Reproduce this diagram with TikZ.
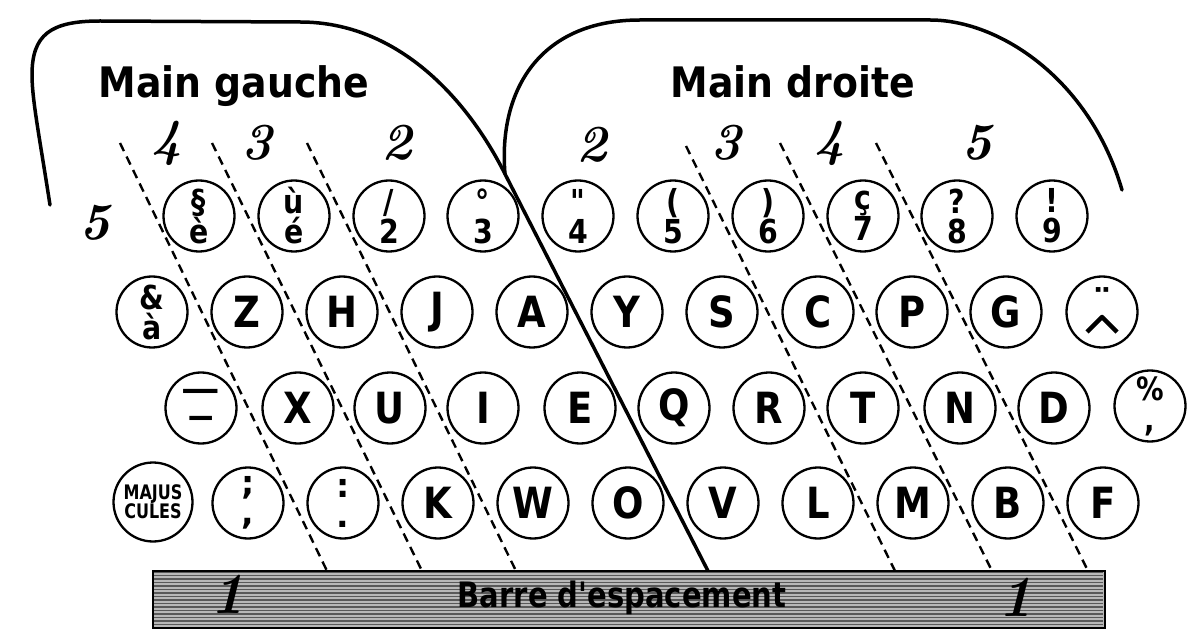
\documentclass[tikz,border=0pt]{standalone}
\usepackage{fontspec}
\newfontfamily\dvb{DejaVu Sans Bold}
\usetikzlibrary{calc}
\newcommand{\nar}[1]{\scalebox{0.86}[1]{#1}}
\begin{document}
\begin{tikzpicture}[x=1pt,y=-1pt,
  key/.style={circle,draw,line width=2.3pt,minimum size=71pt,inner sep=0pt,font=\dvb\fontsize{43}{43}\selectfont},
  keytwo/.style={key,align=center,font=\dvb\fontsize{33}{30}\selectfont},
  fing/.style={font=\bfseries\itshape\fontsize{52}{52}\selectfont},
  head/.style={font=\dvb\fontsize{42}{42}\selectfont},
  zone/.style={line width=2.4pt,dash pattern=on 9pt off 6pt},
  hand/.style={line width=3.5pt,line cap=round,line join=round}]
\useasboundingbox (0,0) rectangle (1200,644);

% hand outlines
\coordinate (junc) at (505,174);
\coordinate (divb) at (708,571);
\coordinate (lstart) at (50,205);
\coordinate (rend) at (1122,190);
\draw[hand] (lstart) .. controls (40,140) and (32,100) .. (32,75)
  .. controls (32,35) and (50,21) .. (100,21) -- (300,22)
  .. controls (400,22) and (469,102) .. (junc) -- (divb);
\draw[hand] (junc) .. controls (498,90) and (540,20) .. (640,20) -- (930,20)
  .. controls (1000,20) and (1090,80) .. (rend);

% headings
\node[head,anchor=base] (mg) at (234,98) {\scalebox{0.9}[1]{Main gauche}};
\node[head,anchor=base] (md) at (793,98) {\scalebox{0.9}[1]{Main droite}};

% finger numbers
\node[fing] (f5l) at (95,223) {5};
\node[fing] (f4l) at (167,143) {4};
\node[fing] (f3l) at (257,143) {3};
\node[fing] (f2l) at (397,143) {2};
\node[fing] (f2r) at (592,145) {2};
\node[fing] (f3r) at (726,143) {3};
\node[fing] (f4r) at (830,143) {4};
\node[fing] (f5r) at (977,143) {5};

% finger zone lines
\coordinate (za1) at (120,143); \coordinate (zb1) at (328,573);
\coordinate (za2) at (212,143); \coordinate (zb2) at (423,573);
\coordinate (za3) at (307,143); \coordinate (zb3) at (517,573);
\coordinate (za4) at (686,146); \coordinate (zb4) at (896,573);
\coordinate (za5) at (780,143); \coordinate (zb5) at (993,573);
\coordinate (za6) at (876,143); \coordinate (zb6) at (1089,573);
\foreach \i in {1,...,6} \draw[zone] (za\i) -- (zb\i);

% row 1
\node[keytwo] (k11) at (199,216) {\nar{§}\\\nar{è}};
\node[keytwo] (k12) at (294,216) {\nar{ù}\\\nar{é}};
\node[keytwo] (k13) at (389,216) {\nar{/}\\\nar{2}};
\node[keytwo] (k14) at (483,216) {\nar{°}\\\nar{3}};
\node[keytwo] (k15) at (578,216) {\nar{"}\\\nar{4}};
\node[keytwo] (k16) at (673,216) {\nar{(}\\\nar{5}};
\node[keytwo] (k17) at (768,216) {\nar{)}\\\nar{6}};
\node[keytwo] (k18) at (863,216) {\nar{ç}\\\nar{7}};
\node[keytwo] (k19) at (957,216) {\nar{?}\\\nar{8}};
\node[keytwo] (k110) at (1052,216) {\nar{!}\\\nar{9}};

% row 2
\node[keytwo] (k21) at (152,312) {\nar{\&}\\\nar{à}};
\node[key] (k22) at (247,312) {\nar{Z}};
\node[key] (k23) at (342,312) {\nar{H}};
\node[key] (k24) at (437,312) {\nar{J}};
\node[key] (k25) at (532,312) {\nar{A}};
\node[key] (k26) at (627,312) {\nar{Y}};
\node[key] (k27) at (722,312) {\nar{S}};
\node[key] (k28) at (818,312) {\nar{C}};
\node[key] (k29) at (912,312) {\nar{P}};
\node[key] (k210) at (1006,312) {\nar{G}};
\node[key] (k211) at (1102,312) {};
\node[font=\dvb\fontsize{40}{40}\selectfont] (k211d) at ($(k211)+(0,-9)$) {¨};
\draw[line width=4.5pt,line join=round] ($(k211)+(-15,20)$) -- ($(k211)+(0,5)$) -- ($(k211)+(15,20)$);

% row 3
\node[key] (k31) at (201,408) {};
\node[font=\dvb\fontsize{22}{22}\selectfont,inner sep=0pt] (k31a) at ($(k31)+(0,-13)$) {\scalebox{1.75}[1.5]{—}};
\node[font=\dvb\fontsize{22}{22}\selectfont,inner sep=0pt] (k31b) at ($(k31)+(0,14)$) {\scalebox{1.15}[1.5]{—}};
\node[key] (k32) at (298,408) {\nar{X}};
\node[key] (k33) at (390,408) {\nar{U}};
\node[key] (k34) at (483,408) {\nar{I}};
\node[key] (k35) at (580,408) {\nar{E}};
\node[key] (k36) at (674,408) {\nar{Q}};
\node[key] (k37) at (769,408) {\nar{R}};
\node[key] (k38) at (863,408) {\nar{T}};
\node[key] (k39) at (960,408) {\nar{N}};
\node[key] (k310) at (1054,408) {\nar{D}};
\node[keytwo,font=\dvb\fontsize{32}{31}\selectfont] (k311) at (1150,406) {\nar{\%}\\\nar{,}};

% row 4
\node[key,minimum size=79pt,font=\dvb\fontsize{20}{19}\selectfont,align=center] (k41) at (153,502) {\scalebox{0.8}[1]{MAJUS}\\\scalebox{0.8}[1]{CULES}};
\node[keytwo] (k42) at (248,503) {;\\,};
\node[keytwo] (k43) at (343,503) {:\\.};
\node[key] (k44) at (438,503) {\nar{K}};
\node[key] (k45) at (533,503) {\nar{W}};
\node[key] (k46) at (628,503) {\nar{O}};
\node[key] (k47) at (723,503) {\nar{V}};
\node[key] (k48) at (818,503) {\nar{L}};
\node[key] (k49) at (913,503) {\nar{M}};
\node[key] (k410) at (1008,503) {\nar{B}};
\node[key] (k411) at (1103,503) {\nar{F}};

% space bar
\fill[black!28] (152,570) rectangle (1104,627);
\foreach \yy in {572,575.5,...,626} \draw[black!65,line width=1.1pt] (153,\yy) -- (1103,\yy);
\node[draw,line width=2pt,minimum width=952pt,minimum height=57pt,inner sep=0pt,anchor=north west] (bar) at (152,570) {};
\node[font=\dvb\fontsize{35}{35}\selectfont,anchor=base] (bartxt) at (622,607) {\scalebox{0.83}[1]{Barre d'espacement}};
\node[fing,font=\bfseries\itshape\fontsize{58}{58}\selectfont] (one1) at (228,594) {1};
\node[fing,font=\bfseries\itshape\fontsize{58}{58}\selectfont] (one2) at (1016,597) {1};
\end{tikzpicture}
\end{document}
